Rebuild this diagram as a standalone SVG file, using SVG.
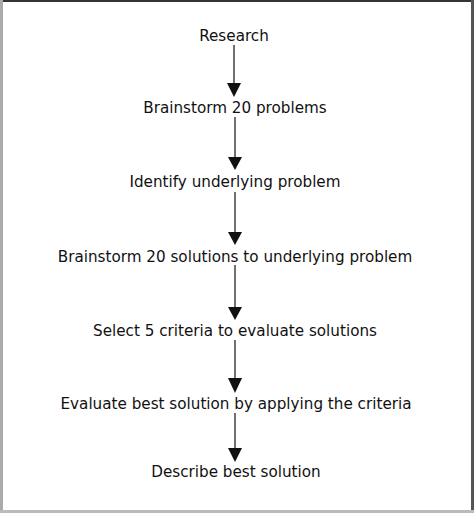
<svg xmlns="http://www.w3.org/2000/svg" width="474" height="513" viewBox="0 0 474 513">
<style>
.lbl{font-family:"DejaVu Sans","Liberation Sans",Arial,sans-serif;font-size:15.2px;fill:#111;text-anchor:middle}
.conn{stroke:#111;stroke-width:1.2;fill:none}
.head{fill:#111}
</style>
<rect x="0" y="0" width="474" height="513" fill="#fff"/>
<g id="frame">
<line x1="0" y1="1" x2="474" y2="1" stroke="#333" stroke-width="2"/>
<line x1="1.5" y1="0" x2="1.5" y2="513" stroke="#aaa" stroke-width="3"/>
<line x1="472.5" y1="0" x2="472.5" y2="513" stroke="#555" stroke-width="3"/>
<line x1="0" y1="511.5" x2="474" y2="511.5" stroke="#bbb" stroke-width="3"/>
</g>
<g id="connectors">
<path class="conn" d="M234,45 V84"/><path class="head" d="M227,83 L241,83 L234,97 Z"/>
<path class="conn" d="M235,117 V158"/><path class="head" d="M228,157 L242,157 L235,170 Z"/>
<path class="conn" d="M235,192 V233"/><path class="head" d="M228,232 L242,232 L235,245 Z"/>
<path class="conn" d="M235,265 V308"/><path class="head" d="M228,307 L242,307 L235,320 Z"/>
<path class="conn" d="M235,340 V379"/><path class="head" d="M228,378 L242,378 L235,393 Z"/>
<path class="conn" d="M235,413 V449"/><path class="head" d="M228,448 L242,448 L235,462 Z"/>
</g>
<g id="n1"><text class="lbl" x="234" y="41">Research</text></g>
<g id="n2"><text class="lbl" x="235" y="113">Brainstorm 20 problems</text></g>
<g id="n3"><text class="lbl" x="235" y="187">Identify underlying problem</text></g>
<g id="n4"><text class="lbl" x="235" y="262">Brainstorm 20 solutions to underlying problem</text></g>
<g id="n5"><text class="lbl" x="235" y="336">Select 5 criteria to evaluate solutions</text></g>
<g id="n6"><text class="lbl" x="236" y="409">Evaluate best solution by applying the criteria</text></g>
<g id="n7"><text class="lbl" x="236" y="477">Describe best solution</text></g>
</svg>
